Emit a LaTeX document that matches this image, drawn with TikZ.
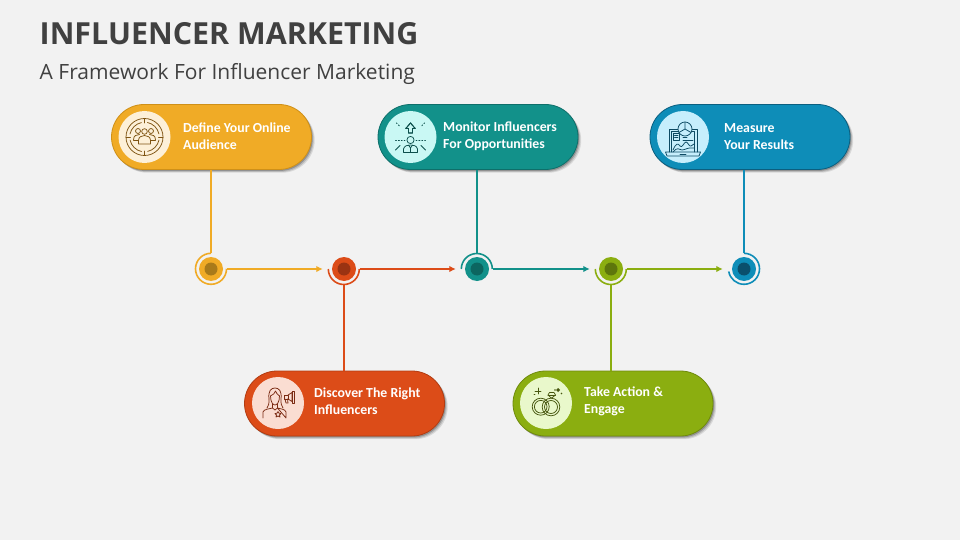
\documentclass[tikz,border=0pt]{standalone}
\usepackage{fontspec}
\setmainfont{Open Sans}
\newfontfamily\pillfont{Carlito}
\usetikzlibrary{arrows.meta,shadows,calc}
\definecolor{bgc}{HTML}{F2F2F2}
\definecolor{titlec}{HTML}{404040}
\definecolor{oc}{HTML}{F0AB26}\definecolor{ocd}{HTML}{A87A1A}\definecolor{ocl}{HTML}{FDF0D8}\definecolor{oci}{HTML}{7F5412}\definecolor{ocb}{HTML}{CF9018}
\definecolor{rc}{HTML}{DC4C18}\definecolor{rcd}{HTML}{9A3312}\definecolor{rcl}{HTML}{FADDD2}\definecolor{rci}{HTML}{7A2A12}\definecolor{rcb}{HTML}{B23C12}
\definecolor{tc}{HTML}{12918A}\definecolor{tcd}{HTML}{0C6660}\definecolor{tcl}{HTML}{C9F8F4}\definecolor{tci}{HTML}{0C4F4C}\definecolor{tcb}{HTML}{0E6F6A}
\definecolor{gc}{HTML}{8BAE10}\definecolor{gcd}{HTML}{5E760C}\definecolor{gcl}{HTML}{E9F8CB}\definecolor{gci}{HTML}{46560E}\definecolor{gcb}{HTML}{6F8B0C}
\definecolor{bc}{HTML}{0E8DB8}\definecolor{bcd}{HTML}{0A4F6C}\definecolor{bcl}{HTML}{C6EEFC}\definecolor{bci}{HTML}{0C4A63}\definecolor{bcb}{HTML}{0B5F80}
\tikzset{
  x=1pt,y=-1pt,
  pill/.style={draw=#1b,line width=0.8pt,fill=#1,minimum width=200pt,minimum height=65pt,rounded corners=32.5pt,inner sep=0pt,
    drop shadow={shadow xshift=3.2pt,shadow yshift=-3.2pt,fill=black,opacity=0.10},
    drop shadow={shadow xshift=2.2pt,shadow yshift=-2.4pt,fill=black,opacity=0.14},
    drop shadow={shadow xshift=1.2pt,shadow yshift=-1.4pt,fill=black,opacity=0.22}},
  disc/.style={circle,fill=#1l,minimum size=52pt,inner sep=0pt},
  label/.style={font=\pillfont\bfseries\fontsize{13.8}{17}\selectfont,text=white,align=left,anchor=west,inner sep=0pt},
  ringnode/.style={circle,minimum size=31pt,inner sep=0pt},
  dotnode/.style={circle,fill=#1,minimum size=24pt,inner sep=0pt},
  hubnode/.style={circle,fill=#1,minimum size=13pt,inner sep=0pt},
  ringarc/.style={draw=#1,line width=1.6pt},
  link/.style={draw=#1,line width=1.6pt},
  flow/.style={draw=#1,line width=1.6pt,-{Latex[length=6.5pt,width=6.5pt]},shorten >=5.5pt},
  ico/.style={draw=#1,line width=0.75pt,line cap=round,line join=round},
  arrowshape/.pic={\draw[pic actions] (-2,-7) -- (-2,-11.5) -- (-4.7,-11.5) -- (0,-17) -- (4.7,-11.5) -- (2,-11.5) -- (2,-7) -- cycle;},
}
\begin{document}
\begin{tikzpicture}
\useasboundingbox (0,0) rectangle (960,540);
\fill[bgc] (0,0) rectangle (960,540);
\node[anchor=west,inner sep=0pt,text=titlec,font=\bfseries\fontsize{30.4}{36}\selectfont] (ttl) at (39.5,34) {INFLUENCER MARKETING};
\node[anchor=west,inner sep=0pt,text=titlec,font=\fontsize{21}{24}\selectfont] (sub) at (39.5,74) {A Framework For Influencer Marketing};

% rings and dots
\foreach \n/\x/\c in {r1/211/oc,r2/344/rc,r3/477/tc,r4/611/gc,r5/744/bc}{
  \node[ringnode] (\n) at (\x,269) {};
  \node[dotnode=\c] (\n d) at (\x,269) {};
  \node[hubnode=\c d] (\n h) at (\x,269) {};
}
\draw[ringarc=oc] (r1.north) arc[start angle=-90,end angle=-360,radius=15.5];
\draw[ringarc=rc] (r2.west) arc[start angle=180,end angle=0,radius=15.5];
\draw[ringarc=tc] (r3.west) arc[start angle=180,end angle=360,radius=15.5];
\draw[ringarc=gc] (r4.west) arc[start angle=180,end angle=0,radius=15.5];
\draw[ringarc=bc] (r5.north) arc[start angle=-90,end angle=170,radius=15.5];

% pills
\node[pill=oc] (p1) at (211.5,137) {};
\node[pill=tc] (p3) at (478,137) {};
\node[pill=bc] (p5) at (750,137) {};
\node[pill=rc] (p2) at (344.5,403.5) {};
\node[pill=gc] (p4) at (613,403.5) {};

% connectors
\draw[link=oc] (p1.south -| r1.north) -- (r1.north);
\draw[link=tc] (p3.south -| r3.north) -- (r3.north);
\draw[link=bc] (p5.south -| r5.north) -- (r5.north);
\draw[link=rc] (p2.north -| r2.south) -- (r2.south);
\draw[link=gc] (p4.north -| r4.south) -- (r4.south);
\draw[flow=oc] (r1.east) -- (r2.west);
\draw[flow=rc] (r2.east) -- (r3.west);
\draw[flow=tc] (r3.east) -- (r4.west);
\draw[flow=gc] (r4.east) -- (r5.west);

% labels
\node[label] (l1) at (183,136) {Define Your Online\\Audience};
\node[label] (l3) at (443,136.5) {Monitor Influencers\\For Opportunities};
\node[label] (l5) at (724,136.5) {Measure\\Your Results};
\node[label] (l2) at (314,401.5) {Discover The Right\\Influencers};
\node[label] (l4) at (584,401.5) {Take Action \&\\Engage};

% discs
\node[disc=oc] (i1) at (144.5,137) {};
\node[disc=tc] (i3) at (410.5,137) {};
\node[disc=bc] (i5) at (683,137) {};
\node[disc=rc] (i2) at (278,403) {};
\node[disc=gc] (i4) at (546,403) {};

% icon: audience target
\begin{scope}[shift={(i1.center)},ico=oci]
  \draw (0,0) circle[radius=18.5];
  \draw (-14.5,-3) arc[start angle=192,end angle=258,radius=14.8];
  \draw (3,-14.5) arc[start angle=-78,end angle=-12,radius=14.8];
  \draw (14.5,3) arc[start angle=12,end angle=78,radius=14.8];
  \draw (-3,14.5) arc[start angle=102,end angle=168,radius=14.8];
  \foreach \a in {0,90,180,270}{\draw (\a:14) -- (\a:18.5);}
  \draw (-6.5,-6) circle[radius=2.5];
  \draw (6.5,-6) circle[radius=2.5];
  \draw (0,-5.5) circle[radius=2.8];
  \draw (-11,3) .. controls (-11,-1.5) and (-8,-2.5) .. (-5,-2.5);
  \draw (11,3) .. controls (11,-1.5) and (8,-2.5) .. (5,-2.5);
  \draw (-11,3) -- (-6,3);
  \draw (11,3) -- (6,3);
  \draw (-6,7) -- (-6,3.5) .. controls (-6,0) and (-3,-1.5) .. (0,-1.5) .. controls (3,-1.5) and (6,0) .. (6,3.5) -- (6,7) -- cycle;
\end{scope}

% icon: monitor influencers
\begin{scope}[shift={(i3.center)},ico=tci]
  \begin{scope}[shift={(0,3)}]
    \pic[ico=tci] {arrowshape};
    \begin{scope}[rotate=-52]\pic[ico=tci] {arrowshape};\end{scope}
    \begin{scope}[rotate=52]\pic[ico=tci] {arrowshape};\end{scope}
  \end{scope}
  \draw (0,3) circle[radius=3.6];
  \draw (-7,15.5) -- (-7,12) .. controls (-6,8.5) and (-3,8) .. (0,8) .. controls (3,8) and (6,8.5) .. (7,12) -- (7,15.5) -- cycle;
  \draw (-2,8.1) -- (0,11) -- (2,8.1) (0,11) -- (0,15.5);
  \draw[dotted,line width=0.9pt] (-15,3) -- (-5.5,3) (5.5,3) -- (15,3);
  \draw (-15,13) -- (-10.5,8.5) (15,13) -- (10.5,8.5);
  \draw[dotted,line width=0.9pt] (-14,-14) -- (-10,-10) (14,-14) -- (10,-10);
\end{scope}

% icon: laptop and results
\begin{scope}[shift={(i5.center)},ico=bci]
  \draw (-14,15) -- (-14,-8) -- (14,-8) -- (14,15);
  \draw (-11.5,15) -- (-11.5,-5.5) -- (11.5,-5.5) -- (11.5,15);
  \draw (-17.5,15) -- (17.5,15) -- (16,19) -- (-16,19) -- cycle;
  \draw (-3,17) -- (3,17);
  \draw (-10,-4) rectangle (-3.5,3);
  \draw (-8.5,-2) -- (-5,-2) (-8.5,0) -- (-5,0);
  \draw (-10,13) .. controls (-7,6) and (-5,6) .. (-3,9) .. controls (-1,12) and (1,5) .. (3,5) .. controls (5,5) and (6,10) .. (8,9) -- (11,7);
  \draw (-10,15) .. controls (-6,10) and (-4,12) .. (-1,13) .. controls (2,13) and (5,10) .. (11,11);
  \draw (0,0) -- (4,0) (0,3) -- (10,3);
  \draw[fill=bcl] (2,-8) circle[radius=7];
  \draw (2,-8) -- (2,-15) (2,-8) -- (8,-4.5) (2,-8) -- (-4,-4.5);
\end{scope}

% icon: woman with megaphone
\begin{scope}[shift={(i2.center)},ico=rci]
  \draw (-9,-4) .. controls (-10,-12) and (-7,-15) .. (-3,-15) .. controls (1,-15) and (4,-12) .. (3,-4) .. controls (3,0) and (3,3) .. (5,5);
  \draw (-9,-4) .. controls (-9,0) and (-9,3) .. (-11,5);
  \draw (-7.5,-7) .. controls (-5,-8) and (-3,-10) .. (-2.5,-12) .. controls (-2,-10) and (0,-8) .. (1.5,-7);
  \draw (-7.5,-7) .. controls (-7.5,-1) and (-5,2) .. (-3,2) .. controls (-1,2) and (1.5,-1) .. (1.5,-7);
  \draw (-5.5,1) -- (-5.5,5) -- (-3,7) -- (-0.5,5) -- (-0.5,1);
  \draw (-15,15) -- (-15,9) .. controls (-14,6) and (-9,6) .. (-5.5,5) (-0.5,5) .. controls (3,6) and (7,6) .. (8,9) -- (8,15) -- cycle;
  \draw (0,8.5) -- (1,10.2) -- (3,10.5) -- (1.5,12) -- (2,14) -- (0,13) -- (-2,14) -- (-1.5,12) -- (-3,10.5) -- (-1,10.2) -- cycle;
  \draw (6,-8) rectangle (10,-4);
  \draw (10,-8) -- (14,-10.5) -- (14,-1.5) -- (10,-4);
  \draw (14,-12) rectangle (16.5,0);
  \draw (7,-4) -- (8,0) -- (10,0) -- (9.5,-4);
\end{scope}

% icon: rings
\begin{scope}[shift={(i4.center)},ico=gci]
  \draw (-5.3,3.7) circle[radius=8.5];
  \draw (-5.3,3.7) circle[radius=6.3];
  \draw (5,4) circle[radius=8.8];
  \draw (5,4) circle[radius=6.5];
  \draw (2,-8) -- (3.5,-10.5) -- (8,-10.5) -- (9.5,-8) -- (5.5,-4.8) -- cycle;
  \draw (2,-8) -- (9.5,-8);
  \draw (-8,-15) -- (-8,-9) (-11,-12) -- (-5,-12);
  \draw[dotted,line width=0.9pt] (-12,-8.5) -- (-10,-8.5);
  \fill[gci] (12,-15) -- (14,-13) -- (12,-11) -- (10,-13) -- cycle;
  \fill[gci] (9,-13) circle[radius=0.8] (15.5,-9.5) circle[radius=0.8];
\end{scope}
\end{tikzpicture}
\end{document}
